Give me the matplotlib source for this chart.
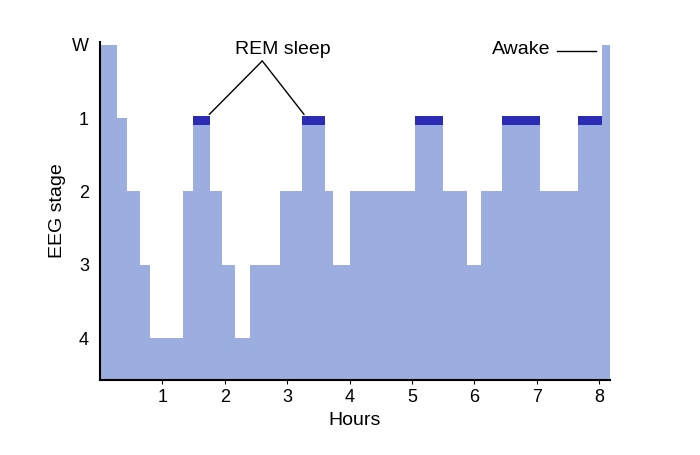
import matplotlib
matplotlib.use("Agg")
import matplotlib.pyplot as plt

plt.rcParams["font.family"] = ["Liberation Sans", "DejaVu Sans"]

# hypnogram: segment start hours and EEG stage (0 = W)
starts = [0, 0.27, 0.43, 0.64, 0.8, 1.33, 1.49, 1.76, 1.96, 2.16, 2.4, 2.88, 3.24, 3.6, 3.73,
          4.0, 5.05, 5.5, 5.88, 6.1, 6.45, 7.05, 7.66, 8.05]
stages = [0, 1, 2, 3, 4, 2, 1, 2, 3, 4, 3, 2, 1, 2, 3,
          2, 1, 2, 3, 2, 1, 2, 1, 0]
end_hour = 8.17
rem_segments = [(1.49, 1.76), (3.24, 3.6), (5.05, 5.5), (6.45, 7.05), (7.66, 8.05)]
bottom = 4.57

fig = plt.figure(figsize=(7, 4.55), dpi=100)
ax = fig.add_axes([0.143, 0.165, 0.728, 0.743])

xs = starts + [end_hour]
ys = stages + [stages[-1]]
ax.fill_between(xs, ys, bottom, step="post", color="#9cade0", linewidth=0)
for a, b in rem_segments:
    ax.fill_between([a, b], 0.97, 1.1, color="#2b2bb5", linewidth=0)

ax.set_xlim(0, end_hour)
ax.set_ylim(bottom, -0.04)
ax.set_xticks(range(1, 9))
ax.set_yticks([0, 1, 2, 3, 4])
ax.set_yticklabels(["W", "1", "2", "3", "4"])
ax.tick_params(axis="both", labelsize=13, length=3)
ax.tick_params(axis="y", length=0, pad=8)
ax.set_xlabel("Hours", fontsize=14)
ax.set_ylabel("EEG stage", fontsize=14)
for s in ["top", "right"]:
    ax.spines[s].set_visible(False)
ax.spines["left"].set_linewidth(1.5)
ax.spines["bottom"].set_linewidth(1.5)

ax.text(2.93, 0.07, "REM sleep", ha="center", va="center", fontsize=14)
for tip in [(1.75, 0.95), (3.27, 0.95)]:
    ax.annotate("", xy=tip, xytext=(2.6, 0.22),
                arrowprops=dict(arrowstyle="-", color="black", lw=1, shrinkA=0, shrinkB=0))
ax.text(6.75, 0.07, "Awake", ha="center", va="center", fontsize=14)
ax.plot([7.33, 7.95], [0.08, 0.08], color="black", lw=1)

fig.savefig("out.png")
